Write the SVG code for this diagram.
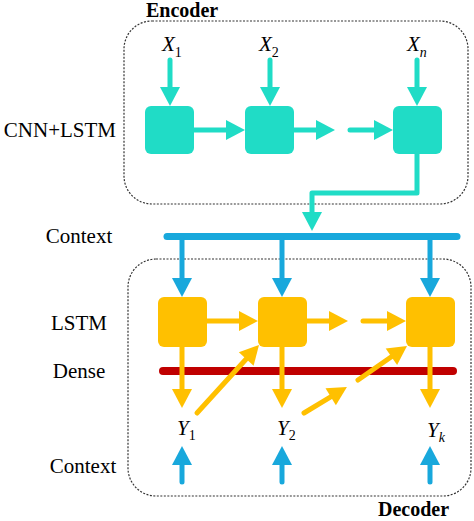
<svg xmlns="http://www.w3.org/2000/svg" width="474" height="521" viewBox="0 0 474 521" font-family="Liberation Serif, Times New Roman, DejaVu Serif, serif">
<style>
text{font-family:"Liberation Serif","Times New Roman","DejaVu Serif",serif;fill:#000}
.lbl{font-size:21px}
.ttl{font-size:20px;font-weight:bold}
.var{font-size:21px;font-style:italic}
.sub{font-size:14px}
.up{font-style:normal}
.frame{fill:none;stroke:#333;stroke-width:1.2;stroke-dasharray:2 1.5}
.teal{fill:none;stroke:#20DCC6;stroke-width:5;stroke-linecap:round;stroke-linejoin:round}
.blue{fill:none;stroke:#18A8DC;stroke-width:5;stroke-linecap:round}
.orng{fill:none;stroke:#FFC000;stroke-width:5;stroke-linecap:round}
.tealbox{fill:#20DCC6}
.orbox{fill:#FFC000}
</style>
<defs>
<marker id="hT" markerUnits="userSpaceOnUse" markerWidth="20" markerHeight="20" refX="0" refY="10" orient="auto" overflow="visible"><path d="M0,0 L19,10 L0,20 z" fill="#20DCC6"/></marker>
<marker id="hB" markerUnits="userSpaceOnUse" markerWidth="20" markerHeight="20" refX="0" refY="10" orient="auto" overflow="visible"><path d="M0,0 L19,10 L0,20 z" fill="#18A8DC"/></marker>
<marker id="hO" markerUnits="userSpaceOnUse" markerWidth="20" markerHeight="20" refX="0" refY="10" orient="auto" overflow="visible"><path d="M0,0 L19,10 L0,20 z" fill="#FFC000"/></marker>
</defs>

<g id="encoder">
<rect class="frame" x="124" y="21" width="344" height="183" rx="28"/>
<text class="ttl" x="146" y="17" font-family="Liberation Serif">Encoder</text>
</g>
<g id="decoder">
<rect class="frame" x="128" y="259" width="343" height="237" rx="28"/>
<text class="ttl" x="378" y="516" font-family="Liberation Serif">Decoder</text>
</g>

<g id="labels" font-family="Liberation Serif">
<text class="lbl" x="116" y="137" text-anchor="end">CNN+LSTM</text>
<text class="lbl" x="79" y="243" text-anchor="middle">Context</text>
<text class="lbl" x="79" y="330" text-anchor="middle">LSTM</text>
<text class="lbl" x="79" y="378" text-anchor="middle">Dense</text>
<text class="lbl" x="83" y="473" text-anchor="middle">Context</text>
</g>

<g id="inputs">
<text class="var" x="162" y="51">X<tspan class="sub up" dy="6">1</tspan></text>
<text class="var" x="259" y="51">X<tspan class="sub up" dy="6">2</tspan></text>
<text class="var" x="407" y="51">X<tspan class="sub" dy="6">n</tspan></text>
</g>

<g id="enc-cells">
<rect id="enc1" class="tealbox" x="145" y="106" width="49" height="48" rx="6"/>
<rect id="enc2" class="tealbox" x="245" y="106" width="49" height="48" rx="6"/>
<rect id="encn" class="tealbox" x="393" y="106" width="49" height="48" rx="6"/>
</g>

<g id="dec-cells">
<rect id="dec1" class="orbox" x="158" y="297" width="49" height="50" rx="6"/>
<rect id="dec2" class="orbox" x="258" y="297" width="49" height="50" rx="6"/>
<rect id="deck" class="orbox" x="406" y="297" width="49" height="50" rx="6"/>
</g>

<g id="context-bar">
<line x1="167" y1="236.5" x2="457" y2="236.5" stroke="#18A8DC" stroke-width="7" stroke-linecap="round"/>
</g>
<g id="dense-bar">
<line x1="163" y1="371" x2="453" y2="371" stroke="#C00000" stroke-width="8" stroke-linecap="round"/>
</g>

<g id="outputs">
<text class="var" x="177" y="435">Y<tspan class="sub up" dy="5">1</tspan></text>
<text class="var" x="277" y="435">Y<tspan class="sub up" dy="5">2</tspan></text>
<text class="var" x="427" y="437">Y<tspan class="sub" dy="5">k</tspan></text>
</g>

<g id="connectors">
<line class="teal" x1="170" y1="60" x2="170" y2="87" marker-end="url(#hT)"/>
<line class="teal" x1="270" y1="60" x2="270" y2="87" marker-end="url(#hT)"/>
<line class="teal" x1="417" y1="60" x2="417" y2="87" marker-end="url(#hT)"/>
<line class="teal" x1="194" y1="130" x2="226" y2="130" marker-end="url(#hT)"/>
<line class="teal" x1="294" y1="130" x2="316" y2="130" marker-end="url(#hT)"/>
<line class="teal" x1="350" y1="130" x2="374" y2="130" marker-end="url(#hT)"/>
<polyline class="teal" points="417,154 417,193 312,193 312,212" marker-end="url(#hT)"/>

<line class="blue" x1="182" y1="240" x2="182" y2="278" marker-end="url(#hB)"/>
<line class="blue" x1="282" y1="240" x2="282" y2="278" marker-end="url(#hB)"/>
<line class="blue" x1="430" y1="240" x2="430" y2="278" marker-end="url(#hB)"/>

<line class="orng" x1="207" y1="321" x2="239" y2="321" marker-end="url(#hO)"/>
<line class="orng" x1="307" y1="321" x2="329" y2="321" marker-end="url(#hO)"/>
<line class="orng" x1="363" y1="321" x2="387" y2="321" marker-end="url(#hO)"/>

<line class="orng" x1="182" y1="347" x2="182" y2="389" marker-end="url(#hO)"/>
<line class="orng" x1="282" y1="347" x2="282" y2="389" marker-end="url(#hO)"/>
<line class="orng" x1="430" y1="347" x2="430" y2="389" marker-end="url(#hO)"/>

<line class="orng" x1="197" y1="413" x2="246.2" y2="359" marker-end="url(#hO)"/>
<line class="orng" x1="304" y1="413" x2="330.7" y2="396.8" marker-end="url(#hO)"/>
<line class="orng" x1="358" y1="380" x2="391.4" y2="356.8" marker-end="url(#hO)"/>

<line class="blue" x1="182" y1="482" x2="182" y2="465" marker-end="url(#hB)"/>
<line class="blue" x1="282" y1="482" x2="282" y2="465" marker-end="url(#hB)"/>
<line class="blue" x1="430" y1="482" x2="430" y2="465" marker-end="url(#hB)"/>
</g>
</svg>
